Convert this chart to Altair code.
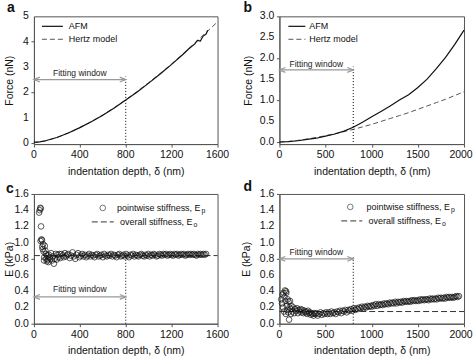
import altair as alt
import pandas as pd

FONT = "Liberation Sans"

# ---------------- data ----------------
# panel a (force curves)
a_afm_depth = [0, 50, 100, 200, 300, 400, 500, 600, 700, 800, 900, 1000, 1100, 1200, 1300, 1350, 1400, 1425, 1450, 1475, 1500, 1515]
a_afm_force = [0.03, 0.04, 0.08, 0.21, 0.39, 0.60, 0.83, 1.09, 1.38, 1.69, 2.01, 2.36, 2.72, 3.10, 3.50, 3.72, 3.90, 4.05, 4.02, 4.22, 4.30, 4.45]
a_hertz_depth = [0, 100, 200, 300, 400, 500, 600, 700, 800, 900, 1000, 1100, 1200, 1300, 1400, 1500, 1600]
a_hertz_force = [0, 0.075, 0.21, 0.39, 0.60, 0.84, 1.10, 1.39, 1.70, 2.03, 2.38, 2.74, 3.12, 3.52, 3.94, 4.36, 4.78]

# panel b
b_depth = [0, 100, 200, 300, 400, 500, 600, 700, 800, 900, 1000, 1100, 1200, 1300, 1400, 1500, 1600, 1700, 1800, 1900, 2000]
b_afm_force = [0.00, 0.01, 0.03, 0.06, 0.09, 0.14, 0.19, 0.26, 0.35, 0.47, 0.60, 0.73, 0.86, 1.00, 1.13, 1.30, 1.50, 1.75, 2.02, 2.33, 2.67]
b_hertz_force = [0, 0.013, 0.038, 0.07, 0.107, 0.15, 0.197, 0.248, 0.30, 0.36, 0.42, 0.49, 0.56, 0.63, 0.70, 0.78, 0.86, 0.94, 1.02, 1.11, 1.20]

# panel c (pointwise stiffness)
c_depth_early = [45, 50, 55, 60, 62, 58, 66, 70, 72, 76, 80, 84, 88, 90, 95, 100, 104, 108, 112, 118,
                 122, 126, 130, 136, 142, 150, 158, 166, 174, 182, 190, 198, 206, 214, 222, 230, 240, 250, 260, 270,
                 280, 290]
c_E_early = [1.37, 1.40, 1.43, 1.42, 1.20, 1.02, 1.04, 1.03, 0.95, 0.92, 0.98, 0.89, 0.78, 0.82, 0.96, 0.90, 0.86, 0.80, 0.77, 0.84,
             0.79, 0.76, 0.85, 0.82, 0.80, 0.87, 0.78, 0.83, 0.74, 0.80, 0.86, 0.79, 0.85, 0.82, 0.86, 0.81, 0.86, 0.84, 0.82, 0.87,
             0.83, 0.85]
c_depth_main = [300, 312, 324, 336, 348, 360, 372, 384, 396, 408,
                420, 432, 444, 456, 468, 480, 492, 504, 516, 528,
                540, 552, 564, 576, 588, 600, 612, 624, 636, 648,
                660, 672, 684, 696, 708, 720, 732, 744, 756, 768,
                780, 792, 804, 816, 828, 840, 852, 864, 876, 888,
                900, 912, 924, 936, 948, 960, 972, 984, 996, 1008,
                1020, 1032, 1044, 1056, 1068, 1080, 1092, 1104, 1116, 1128,
                1140, 1152, 1164, 1176, 1188, 1200, 1212, 1224, 1236, 1248,
                1260, 1272, 1284, 1296, 1308, 1320, 1332, 1344, 1356, 1368,
                1380, 1392, 1404, 1416, 1428, 1440, 1452, 1464, 1476, 1488,
                1500]
c_E_main = [0.86, 0.81, 0.84, 0.88, 0.83, 0.80, 0.85, 0.87, 0.82, 0.84,
            0.86, 0.83, 0.85, 0.82, 0.84, 0.86, 0.83, 0.85, 0.84, 0.82,
            0.85, 0.86, 0.83, 0.84, 0.85, 0.82, 0.86, 0.84, 0.83, 0.85,
            0.84, 0.86, 0.83, 0.85, 0.84, 0.82, 0.85, 0.86, 0.83, 0.84,
            0.85, 0.83, 0.86, 0.84, 0.82, 0.85, 0.84, 0.86, 0.83, 0.85,
            0.84, 0.83, 0.85, 0.86, 0.84, 0.83, 0.85, 0.84, 0.86, 0.83,
            0.85, 0.84, 0.86, 0.85, 0.83, 0.84, 0.86, 0.85, 0.84, 0.86,
            0.85, 0.86, 0.84, 0.85, 0.86, 0.85, 0.84, 0.86, 0.85, 0.86,
            0.84, 0.85, 0.86, 0.85, 0.86, 0.84, 0.85, 0.86, 0.85, 0.86,
            0.85, 0.86, 0.85, 0.84, 0.86, 0.85, 0.86, 0.85, 0.86, 0.85,
            0.86]
c_E_overall = 0.84

# panel d
d_depth_early = [20, 28, 35, 40, 45, 50, 55, 60, 65, 70, 72, 75, 80, 85, 90, 95, 100, 105, 110, 115,
                 120, 125, 130, 140, 150, 160, 170, 180, 190, 200, 210, 220, 230, 240, 250, 260, 270, 280, 290, 300,
                 310, 320, 330, 340, 350, 360, 370, 380, 390]
d_E_early = [0.30, 0.25, 0.36, 0.20, 0.38, 0.15, 0.33, 0.41, 0.28, 0.12, 0.40, 0.38, 0.22, 0.17, 0.30, 0.14, 0.27, 0.05, 0.20, 0.28,
             0.18, 0.12, 0.22, 0.15, 0.20, 0.13, 0.18, 0.16, 0.19, 0.13, 0.17, 0.15, 0.18, 0.14, 0.17, 0.13, 0.16, 0.14, 0.15, 0.12,
             0.16, 0.13, 0.14, 0.11, 0.13, 0.12, 0.10, 0.13, 0.12]
d_depth_main = [400, 415, 430, 445, 460, 475, 490, 505, 520, 535,
                550, 565, 580, 595, 610, 625, 640, 655, 670, 685,
                700, 715, 730, 745, 760, 775, 790, 805, 820, 835,
                850, 865, 880, 895, 910, 925, 940, 955, 970, 985,
                1000, 1015, 1030, 1045, 1060, 1075, 1090, 1105, 1120, 1135,
                1150, 1165, 1180, 1195, 1210, 1225, 1240, 1255, 1270, 1285,
                1300, 1315, 1330, 1345, 1360, 1375, 1390, 1405, 1420, 1435,
                1450, 1465, 1480, 1495, 1510, 1525, 1540, 1555, 1570, 1585,
                1600, 1615, 1630, 1645, 1660, 1675, 1690, 1705, 1720, 1735,
                1750, 1765, 1780, 1795, 1810, 1825, 1840, 1855, 1870, 1885,
                1900, 1915, 1930, 1945]
d_E_main = [0.13, 0.10, 0.12, 0.14, 0.11, 0.13, 0.12, 0.14, 0.12, 0.14,
            0.12, 0.15, 0.13, 0.14, 0.12, 0.15, 0.14, 0.16, 0.13, 0.16,
            0.15, 0.17, 0.14, 0.17, 0.16, 0.18, 0.16, 0.19, 0.17, 0.19,
            0.18, 0.20, 0.19, 0.21, 0.19, 0.21, 0.20, 0.22, 0.21, 0.22,
            0.21, 0.23, 0.22, 0.24, 0.22, 0.24, 0.23, 0.24, 0.23, 0.25,
            0.24, 0.25, 0.24, 0.26, 0.25, 0.26, 0.25, 0.27, 0.25, 0.27,
            0.26, 0.27, 0.26, 0.28, 0.27, 0.28, 0.27, 0.28, 0.27, 0.29,
            0.28, 0.29, 0.28, 0.29, 0.28, 0.30, 0.29, 0.30, 0.29, 0.30,
            0.30, 0.29, 0.31, 0.30, 0.31, 0.30, 0.31, 0.30, 0.32, 0.31,
            0.32, 0.31, 0.32, 0.31, 0.33, 0.32, 0.33, 0.32, 0.33, 0.32,
            0.33, 0.34, 0.33, 0.34]
d_E_overall = 0.15

# tick values and their labels
x_ticks_1600 = [0, 400, 800, 1200, 1600]
x_labels_1600 = ["0", "400", "800", "1200", "1600"]
x_ticks_2000 = [0, 500, 1000, 1500, 2000]
x_labels_2000 = ["0", "500", "1000", "1500", "2000"]
a_y_ticks = [0, 1, 2, 3, 4, 5]
a_y_labels = ["0", "1", "2", "3", "4", "5"]
b_y_ticks = [0, 0.5, 1.0, 1.5, 2.0, 2.5, 3.0]
b_y_labels = ["0.0", "0.5", "1.0", "1.5", "2.0", "2.5", "3.0"]
E_ticks = [0, 0.2, 0.4, 0.6, 0.8, 1.0, 1.2, 1.4, 1.6]
E_labels = ["0.0", "0.2", "0.4", "0.6", "0.8", "1.0", "1.2", "1.4", "1.6"]

FIT_END = 800
X_TITLE = "indentation depth, δ (nm)"

ONE = alt.Data(values=[{"k": 1}])
MARKER_SIZE = 32
TXT = "#111111"
TICK_FS = 10.5


# ---------------- helpers ----------------
def x_enc(field, dom, ticks, w):
    return alt.X(f"{field}:Q", scale=alt.Scale(domain=dom, nice=False, zero=False),
                 axis=alt.Axis(values=ticks, labels=False, title=X_TITLE, titleX=w / 2, titleY=27,
                               titleBaseline="middle", titleAlign="center"))


def y_enc(field, dom, ticks, title, tx, h):
    return alt.Y(f"{field}:Q", scale=alt.Scale(domain=dom, nice=False, zero=False),
                 axis=alt.Axis(values=ticks, labels=False, title=title, titleX=tx, titleY=h / 2,
                               titleAngle=270, titleBaseline="middle", titleAlign="center"))


def tick_label_layers(xt, xl, yt, yl, h, last_dx=0):
    ydf = pd.DataFrame({"tv": yt, "tl": yl})
    ylab = alt.Chart(ydf).mark_text(font=FONT, fontSize=TICK_FS, color=TXT, align="right",
                                    baseline="middle").encode(x=alt.value(-5), y="tv:Q", text="tl:N")
    xdf = pd.DataFrame({"tv": xt[:-1], "tl": xl[:-1]})
    xlab = alt.Chart(xdf).mark_text(font=FONT, fontSize=TICK_FS, color=TXT, align="center",
                                    baseline="middle").encode(x="tv:Q", y=alt.value(h + 11), text="tl:N")
    xdf_last = pd.DataFrame({"tv": xt[-1:], "tl": xl[-1:]})
    kw = dict(font=FONT, fontSize=TICK_FS, color=TXT, align="center", baseline="middle")
    if last_dx:
        kw["dx"] = last_dx
    xlab_last = alt.Chart(xdf_last).mark_text(**kw).encode(x="tv:Q", y=alt.value(h + 11), text="tl:N")
    return [ylab, xlab, xlab_last]


def fit_layers(arrow_y, text_y, dot_top):
    d = alt.Data(values=[{"fx0": 0, "fx1": FIT_END, "fxm": FIT_END / 2, "fay": arrow_y,
                          "fty": text_y, "fy0": 0, "fdt": dot_top}])
    dotted = alt.Chart(d).mark_rule(color="black", strokeDash=[1, 2], strokeWidth=1).encode(
        x="fx1:Q", y="fy0:Q", y2="fdt:Q")
    arrow = alt.Chart(d).mark_rule(color="#999999", strokeWidth=1.2).encode(
        x="fx0:Q", x2="fx1:Q", y="fay:Q")
    head_l = alt.Chart(d).mark_point(shape="M2,-0.8L0,0L2,0.8", size=36, filled=False,
                                     color="#999999", strokeWidth=1.2, opacity=1).encode(x="fx0:Q", y="fay:Q")
    head_r = alt.Chart(d).mark_point(shape="M-2,-0.8L0,0L-2,0.8", size=36, filled=False,
                                     color="#999999", strokeWidth=1.2, opacity=1).encode(x="fx1:Q", y="fay:Q")
    txt = alt.Chart(d).mark_text(text="Fitting window", font=FONT, fontSize=8.5, color="#222222",
                                 align="center", baseline="middle").encode(x="fxm:Q", y="fty:Q")
    return [dotted, arrow, head_l, head_r, txt]


def ptext(t, x, y, size=9, align="left", baseline="middle", weight="normal"):
    return alt.Chart(ONE).mark_text(text=t, font=FONT, fontSize=size, color=TXT, align=align,
                                    baseline=baseline, fontWeight=weight).encode(x=alt.value(x), y=alt.value(y))


def prule(x0, x1, y, color, dash=None, width=1.0):
    kw = dict(color=color, strokeWidth=width)
    if dash is not None:
        kw["strokeDash"] = dash
    return alt.Chart(ONE).mark_rule(**kw).encode(x=alt.value(x0), x2=alt.value(x1), y=alt.value(y))


def line_legend(x0, x1, tx, y1, y2):
    return [prule(x0, x1, y1, "#111111", None, 1.2), ptext("AFM", tx, y1),
            prule(x0, x1, y2, "#555555", [5, 3], 1.0), ptext("Hertz model", tx, y2)]


def scatter_legend(cx, cy, t1_end, ly, lx0, lx1, t2_end):
    circ = alt.Chart(ONE).mark_point(shape="circle", filled=False, size=MARKER_SIZE, color="#111111",
                                     strokeWidth=0.8).encode(x=alt.value(cx), y=alt.value(cy))
    return [circ,
            ptext("pointwise stiffness, E", t1_end, cy, align="right"),
            ptext("p", t1_end + 1, cy + 3, size=7),
            prule(lx0, lx1, ly, "#333333", [6, 3], 1.0),
            ptext("overall stiffness, E", t2_end, ly, align="right"),
            ptext("o", t2_end + 1, ly + 3, size=7)]


# ---------------- panel a ----------------
WA, HA = 184, 128
xa = x_enc("depth", [0, 1600], x_ticks_1600, WA)
ya = y_enc("force", [-0.05, 5], a_y_ticks, "Force (nN)", -24, HA)
df_a_afm = pd.DataFrame({"depth": a_afm_depth, "force": a_afm_force})
df_a_hz = pd.DataFrame({"depth": a_hertz_depth, "force": a_hertz_force})
a_layers = [
    alt.Chart(df_a_hz).mark_line(color="#555555", strokeDash=[5, 3], strokeWidth=1).encode(x=xa, y=ya),
    alt.Chart(df_a_afm).mark_line(color="#111111", strokeWidth=1.2).encode(x="depth:Q", y="force:Q"),
] + tick_label_layers(x_ticks_1600, x_labels_1600, a_y_ticks, a_y_labels, HA) \
  + fit_layers(2.5, 2.75, 2.62) + line_legend(8, 29, 35, 10, 23) + [
    ptext("a", -27, -4, size=14, align="left", baseline="alphabetic", weight="bold"),
    alt.Chart(ONE).mark_rule(strokeOpacity=0, color="white").encode(
        x=alt.value(-33), x2=alt.value(-30), y=alt.value(-15)),
]
panel_a = alt.layer(*a_layers).properties(width=WA, height=HA)

# ---------------- panel b ----------------
WB, HB = 185, 128
xb = x_enc("depth", [0, 2000], x_ticks_2000, WB)
yb = y_enc("hertz", [-0.05, 3.0], b_y_ticks, "Force (nN)", -31, HB)
df_b = pd.DataFrame({"depth": b_depth, "afm": b_afm_force, "hertz": b_hertz_force})
b_layers = [
    alt.Chart(df_b).mark_line(color="#555555", strokeDash=[5, 3], strokeWidth=1).encode(x=xb, y=yb),
    alt.Chart(df_b).mark_line(color="#111111", strokeWidth=1.2).encode(x="depth:Q", y="afm:Q"),
] + tick_label_layers(x_ticks_2000, x_labels_2000, b_y_ticks, b_y_labels, HB, last_dx=-3) \
  + fit_layers(1.72, 1.87, 1.8) + line_legend(9, 26, 30, 10, 23) + [
    ptext("b", -36, -4, size=14, align="left", baseline="alphabetic", weight="bold"),
]
panel_b = alt.layer(*b_layers).properties(width=WB, height=HB)

# ---------------- panel c ----------------
WC, HC = 184, 130
xc = x_enc("ox0", [0, 1600], x_ticks_1600, WC)
yc = y_enc("oe", [0, 1.6], E_ticks, "E (kPa)", -24, HC)
df_c = pd.DataFrame({"depth": c_depth_early + c_depth_main, "E": c_E_early + c_E_main})
ov_c = alt.Data(values=[{"ox0": 0, "ox1": 1600, "oe": c_E_overall}])
c_layers = [
    alt.Chart(ov_c).mark_rule(color="#333333", strokeDash=[6, 3], strokeWidth=1).encode(
        x=xc, x2="ox1:Q", y=yc),
    alt.Chart(df_c).mark_point(shape="circle", filled=False, size=MARKER_SIZE, color="#111111",
                               strokeWidth=0.7, opacity=1).encode(x="depth:Q", y="E:Q"),
] + tick_label_layers(x_ticks_1600, x_labels_1600, E_ticks, E_labels, HC) \
  + fit_layers(0.33, 0.43, 0.84) + scatter_legend(69, 14, 167, 28, 58, 80, 159) + [
    ptext("c", -28, -1, size=14, align="left", baseline="alphabetic", weight="bold"),
]
panel_c = alt.layer(*c_layers).properties(width=WC, height=HC)

# ---------------- panel d ----------------
WD, HD = 185, 130
xd = x_enc("ox0", [0, 2000], x_ticks_2000, WD)
yd = y_enc("oe", [0, 1.6], E_ticks, "E (kPa)", -33, HD)
df_d = pd.DataFrame({"depth": d_depth_early + d_depth_main, "E": d_E_early + d_E_main})
ov_d = alt.Data(values=[{"ox0": 0, "ox1": 2000, "oe": d_E_overall}])
d_layers = [
    alt.Chart(ov_d).mark_rule(color="#333333", strokeDash=[6, 3], strokeWidth=1).encode(
        x=xd, x2="ox1:Q", y=yd),
    alt.Chart(df_d).mark_point(shape="circle", filled=False, size=MARKER_SIZE, color="#111111",
                               strokeWidth=0.7, opacity=1).encode(x="depth:Q", y="E:Q"),
] + tick_label_layers(x_ticks_2000, x_labels_2000, E_ticks, E_labels, HD, last_dx=-3) \
  + fit_layers(0.8, 0.88, 0.82) + scatter_legend(71, 13, 171, 27, 62, 83, 162) + [
    ptext("d", -36, -3, size=14, align="left", baseline="alphabetic", weight="bold"),
]
panel_d = alt.layer(*d_layers).properties(width=WD, height=HD)

chart = alt.concat(
    panel_a, panel_b, panel_c, panel_d, columns=2,
    spacing={"row": 50, "column": 62}, bounds="flush", align="each"
).properties(
    padding=0, background="white"
).configure_view(
    stroke="#555555", strokeWidth=1
).configure_axis(
    titleFont=FONT, titleFontSize=10.5, titleColor=TXT, titleFontWeight="normal",
    domainColor="#555555", tickColor="#555555", tickSize=3, grid=False
)

chart.save("out.html", embed_options={"renderer": "svg", "actions": False})
